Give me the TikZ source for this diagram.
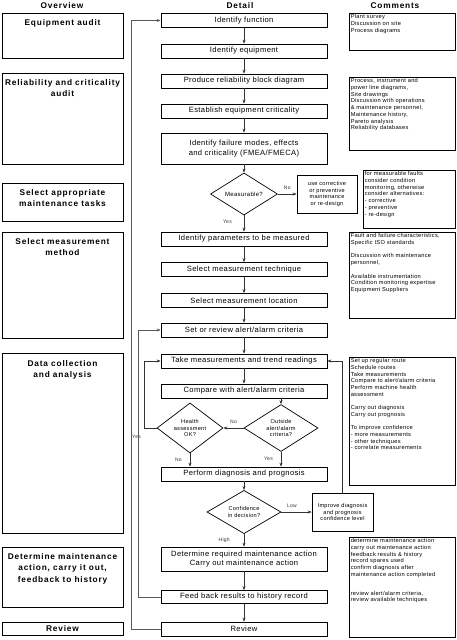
\documentclass[tikz,border=0pt]{standalone}
\usepackage{fontspec}
\setmainfont[LetterSpace=5]{Liberation Sans}
\newfontfamily\spacedfont[LetterSpace=10]{Liberation Sans}
\usetikzlibrary{shapes.geometric, arrows.meta, positioning}

\begin{document}
\begin{tikzpicture}[
    x=1pt, y=-1pt,
    head/.style={font=\spacedfont\bfseries\fontsize{8.3}{10}\selectfont, inner sep=0pt},
    ovbox/.style={draw, line width=0.7pt, anchor=north, inner sep=0pt, font=\spacedfont\bfseries\fontsize{8.3}{11.5}\selectfont},
    box/.style={draw, line width=0.7pt, minimum width=166pt, minimum height=14pt, inner sep=1pt, align=center, font=\fontsize{7.6}{9.5}\selectfont},
    dec/.style={diamond, draw, line width=0.7pt, inner sep=0pt, align=center, font=\fontsize{5.6}{6.8}\selectfont},
    sidebox/.style={draw, line width=0.7pt, align=center, inner sep=1pt, minimum height=38pt, font=\fontsize{5.6}{6.8}\selectfont},
    note/.style={draw, line width=0.5pt, anchor=north west, inner sep=1.5pt, font=\fontsize{5.7}{6.7}\selectfont},
    lbl/.style={font=\fontsize{5}{6}\selectfont, inner sep=0pt},
    arr/.style={-{Stealth[length=4pt, width=3pt]}, line width=0.5pt, black!80},
    back/.style={arr, gray!70!black},
  ]
    \useasboundingbox (0,0) rectangle (457,640);

    % column heads
    \node[head] (hOver) at (62,6) {Overview};
    \node[head] (hDetail) at (240,6) {Detail};
    \node[head] (hComm) at (395,6) {Comments};

    % overview
    \node[ovbox] (ovEquip) at (62.5,13) {\parbox[t][45pt][t]{121pt}{\centering\rule{0pt}{12pt}Equipment audit}};
    \node[ovbox] (ovRel) at (62.5,73) {\parbox[t][91pt][t]{121pt}{\centering\rule{0pt}{12pt}Reliability and criticality\\audit}};
    \node[ovbox] (ovTasks) at (62.5,183) {\parbox[t][38pt][t]{121pt}{\centering\rule{0pt}{12pt}Select appropriate\\maintenance tasks}};
    \node[ovbox] (ovMethod) at (62.5,232) {\parbox[t][106pt][t]{121pt}{\centering\rule{0pt}{12pt}Select measurement\\method}};
    \node[ovbox] (ovData) at (62.5,353) {\parbox[t][180pt][t]{121pt}{\centering\rule{0pt}{13pt}Data collection\\and analysis}};
    \node[ovbox] (ovAction) at (62.5,547) {\parbox[t][60pt][t]{121pt}{\centering\rule{0pt}{12pt}Determine maintenance\\action, carry it out,\\feedback to history}};
    \node[ovbox, anchor=center, minimum width=121pt, minimum height=13pt] (ovReview) at (62.5,628.5) {Review};

    % detail
    \node[box] (fn) at (244,20.5) {Identify function};
    \node[box] (equip) at (244,51) {Identify equipment};
    \node[box] (rbd) at (244,81) {Produce reliability block diagram};
    \node[box] (crit) at (244,111) {Establish equipment criticality};
    \node[box, minimum height=31pt] (fmea) at (244,148.5) {Identify failure modes, effects\\and criticality (FMEA/FMECA)};
    \node[dec, minimum width=67pt, minimum height=37pt, font=\fontsize{6}{7}\selectfont] (meas) at (244,194) {Measurable?};
    \node[sidebox, minimum width=60pt] (alt) at (327,194) {use corrective\\or preventive\\maintenance\\or re-design};
    \node[box] (param) at (244,239) {Identify parameters to be measured};
    \node[box] (tech) at (244,269.5) {Select measurement technique};
    \node[box] (loc) at (244,300.5) {Select measurement location};
    \node[box] (alarm) at (244,330) {Set or review alert/alarm criteria};
    \node[box] (take) at (244,361) {Take measurements and trend readings};
    \node[box] (comp) at (244,391) {Compare with alert/alarm criteria};
    \node[dec, minimum width=66pt, minimum height=38pt] (health) at (190,428) {Health\\assessment\\OK?};
    \node[dec, minimum width=74pt, minimum height=38pt] (outside) at (281,428) {Outside\\alert/alarm\\criteria?};
    \node[box] (diag) at (244,474) {Perform diagnosis and prognosis};
    \node[dec, minimum width=74pt, minimum height=38pt] (conf) at (244,512) {Confidence\\in decision?};
    \node[sidebox, minimum width=61pt] (improve) at (342.5,512) {Improve diagnosis\\and prognosis\\confidence level};
    \node[box, minimum height=24pt] (act) at (244,559) {Determine required maintenance action\\Carry out maintenance action};
    \node[box, minimum height=13pt] (feed) at (244,597) {Feed back results to history record};
    \node[box] (review) at (244,629) {Review};

    % comments
    \node[note] (nSurvey) at (349,13) {\parbox[t][34pt][t]{103pt}{\raggedright Plant survey\\Discussion on site\\Process diagrams}};
    \node[note] (nRel) at (349,77) {\parbox[t][70pt][t]{103pt}{\raggedright Process, instrument and\\power line diagrams,\\Site drawings\\Discussion with operations\\\& maintenance personnel,\\Maintenance history,\\Pareto analysis\\Reliability databases}};
    \node[note] (nTasks) at (363,170) {\parbox[t][55pt][t]{89pt}{\raggedright for measurable faults\\consider condition\\monitoring, otherwise\\consider alternatives:\\- corrective\\- preventive\\- re-design}};
    \node[note] (nMethod) at (349,232) {\parbox[t][83pt][t]{103pt}{\raggedright Fault and failure characteristics,\\Specific ISO standards\\[6.7pt]Discussion with maintenance\\personnel,\\[6.7pt]Available instrumentation\\Condition monitoring expertise\\Equipment Suppliers}};
    \node[note] (nData) at (349,357) {\parbox[t][125pt][t]{103pt}{\raggedright Set up regular route\\Schedule routes\\Take measurements\\Compare to alert/alarm criteria\\Perform machine health\\assessment\\[6.7pt]Carry out diagnosis\\Carry out prognosis\\[6.7pt]To improve confidence\\- more measurements\\- other techniques\\- correlate measurements}};
    \node[note] (nAction) at (349,537) {\parbox[t][97pt][t]{103pt}{\raggedright determine maintenance action\\carry out maintenance action\\feedback results \& history\\record spares used\\confirm diagnosis after\\maintenance action completed\\[12pt]review alert/alarm criteria,\\review available techniques}};

    % connectors
    \draw[arr] (fn) -- (equip);
    \draw[arr] (equip) -- (rbd);
    \draw[arr] (rbd) -- (crit);
    \draw[arr] (crit) -- (fmea);
    \draw[arr] (fmea) -- (meas);
    \draw[arr] (meas.east) -- node[lbl, above=4pt] {No} (meas.east -| alt.west);
    \draw[arr] (meas) -- node[lbl, left=12pt, pos=0.4] {Yes} (param);
    \draw[arr] (param) -- (tech);
    \draw[arr] (tech) -- (loc);
    \draw[arr] (loc) -- (alarm);
    \draw[arr] (alarm) -- (take);
    \draw[arr] (take) -- (comp);
    \draw[arr] (comp.south -| outside.north) -- (outside.north);
    \draw[arr] (outside.west) -- node[lbl, above=4pt] {No} (health.east);
    \draw[arr] (health.south) -- node[lbl, left=8pt] {No} (health.south |- diag.north);
    \draw[arr] (outside.south) -- node[lbl, left=8pt] {Yes} (outside.south |- diag.north);
    \draw[arr] (health.west) -- ++(-12,0) node[lbl, below left=7pt and 3.5pt] {Yes} |- (take.west);
    \draw[arr] (diag) -- (conf);
    \draw[arr] (conf.east) -- node[lbl, above=4pt, pos=0.35] {Low} (conf.east -| improve.west);
    \draw[arr] (improve.north) |- (take.east);
    \draw[arr] (conf) -- node[lbl, left=14pt] {High} (act);
    \draw[arr] (act) -- (feed);
    \draw[arr] (feed) -- (review);
    \draw[back] (feed.west) -- ++(-22,0) |- (alarm.west);
    \draw[back] (review.west) -- ++(-29,0) |- (fn.west);
  \end{tikzpicture}
\end{document}
